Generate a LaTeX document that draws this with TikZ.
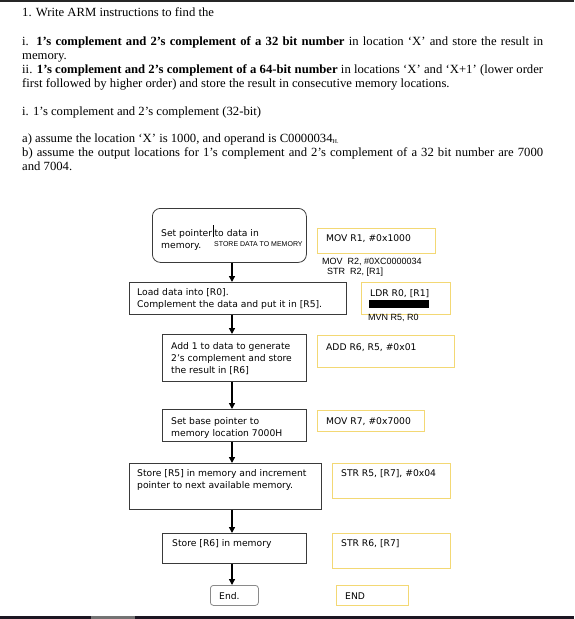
\documentclass[tikz,border=0pt]{standalone}
\usepackage{fontspec}
\setmainfont{Liberation Serif}[FakeStretch=1.015]
\newfontfamily\verdana{DejaVu Sans}
\newfontfamily\arial{Liberation Sans}
\usetikzlibrary{arrows.meta}

\definecolor{codeyellow}{HTML}{F3D874}
\definecolor{boxgray}{HTML}{3A3A3A}
\definecolor{endgray}{HTML}{8A8A8A}
\definecolor{bandcol}{HTML}{1C1622}

\tikzset{
  stepbox/.style={draw=boxgray, line width=0.8pt, anchor=north west, inner sep=0pt},
  codebox/.style={draw=codeyellow, line width=0.8pt, anchor=north west, inner sep=0pt},
  steptext/.style={anchor=north west, inner sep=0pt, align=left,
    font=\verdana\fontsize{9.2}{12}\selectfont},
  smalltext/.style={anchor=north west, inner sep=0pt, align=left,
    font=\arial\fontsize{9}{10}\selectfont},
  headtext/.style={anchor=north west, inner sep=0pt, text width=521pt, align=justify,
    font=\fontsize{12.5}{14.2}\selectfont},
  flowarrow/.style={line width=1.3pt, -{Triangle[width=6pt,length=6pt]}}
}

\begin{document}
\begin{tikzpicture}[x=1pt,y=-1pt]
\useasboundingbox (0,0) rectangle (574,619);

% screen edges
\fill[black!85] (0,0) rectangle (574,1.5);
\fill[bandcol] (0,616) rectangle (574,619);
\fill[black!55] (91,616) rectangle (135,619);

% question text
\node[headtext] (title) at (22,6) {\strut 1. Write ARM instructions to find the};
\node[headtext] (tasks) at (22,35) {\strut i. \textbf{1’s complement and 2’s complement of a 32 bit number} in location ‘X’ and store the result in\linebreak
memory.\\
ii. \textbf{1’s complement and 2’s complement of a 64-bit number} in locations ‘X’ and ‘X+1’ (lower order\linebreak
first followed by higher order) and store the result in consecutive memory locations.};
\node[headtext] (part) at (22,105) {\strut i. 1’s complement and 2’s complement (32-bit)};
\node[headtext] (assume) at (22,132) {\strut a) assume the location ‘X’ is 1000, and operand is C0000034\raisebox{-1pt}{\fontsize{6}{6}\selectfont H.}\\
b) assume the output locations for 1’s complement and 2’s complement of a 32 bit number are 7000\linebreak
and 7004.};

% flowchart boxes
\node[stepbox, rounded corners=8pt, minimum width=154pt, minimum height=54pt] (start) at (152,208) {};
\foreach \nm/\x/\y/\w/\h in {load/129/282/217/32, add/162/334/144/47, base/162/409/144/32,
  store/129/463/192/46, storesix/162/533/144/30} {
\node[stepbox, minimum width=\w pt, minimum height=\h pt] (\nm) at (\x,\y) {};
}
\node[stepbox, draw=endgray, rounded corners=3pt, minimum width=48pt, minimum height=20pt] (finish) at (210,585) {};

% code boxes
\foreach \nm/\x/\y/\w/\h in {movone/317/228/118/25, ldr/361/282/89/32, addcode/317/335/137/32,
  movseven/317/410/107/21, strfive/332/463/118/35, strsix/332/533/118/35, endcode/336/585/72/20} {
\node[codebox, minimum width=\w pt, minimum height=\h pt] (\nm) at (\x,\y) {};
}

% step texts
\node[steptext] (starttxt) at (161,225) {\strut Set pointer\hspace{0.5pt}\rule[-0.25ex]{0.5pt}{2.4ex}\hspace{1.5pt}to data in\\memory.};
\node[anchor=base west, inner sep=0pt, font=\arial\fontsize{7}{8}\selectfont] (storemem) at (214,246) {STORE DATA TO MEMORY};
\node[steptext] (loadtxt) at (137,287) {\strut Load data into [R0].\\Complement the data and put it in [R5].};
\node[steptext] (addtxt) at (171,341) {\strut Add 1 to data to generate\\2’s complement and store\\the result in [R6]};
\node[steptext] (basetxt) at (171,416) {\strut Set base pointer to\\memory location 7000H};
\node[steptext] (storetxt) at (137,468) {\strut Store [R5] in memory and increment\\pointer to next available memory.};
\node[steptext] (storesixtxt) at (172,538) {\strut Store [R6] in memory};
\node[steptext] (finishtxt) at (219,591) {\strut End.};

% code texts
\node[steptext] at (326,233) {\strut MOV R1, \#0x1000};
\node[steptext] at (370,288) {\strut LDR R0, [R1]};
\node[steptext] at (326,342) {\strut ADD R6, R5, \#0x01};
\node[steptext] at (326,416) {\strut MOV R7, \#0x7000};
\node[steptext] at (341,468) {\strut STR R5, [R7], \#0x04};
\node[steptext] at (341,538) {\strut STR R6, [R7]};
\node[steptext] at (345,591) {\strut END};
\node[smalltext] (storedata) at (322,257) {\strut MOV\ \ R2, \#0XC0000034\\\hspace{5pt}STR\ \ R2, [R1]};
\node[smalltext] (mvn) at (368,313) {\strut MVN R5, R0};
\fill (369,300) rectangle (429,308);

% arrows
\coordinate (spine) at (232,0);
\foreach \a/\b in {start/load, load/add, add/base, base/store, store/storesix, storesix/finish} {
\draw[flowarrow] (\a.south -| spine) -- (\b.north -| spine);
}
\end{tikzpicture}
\end{document}
